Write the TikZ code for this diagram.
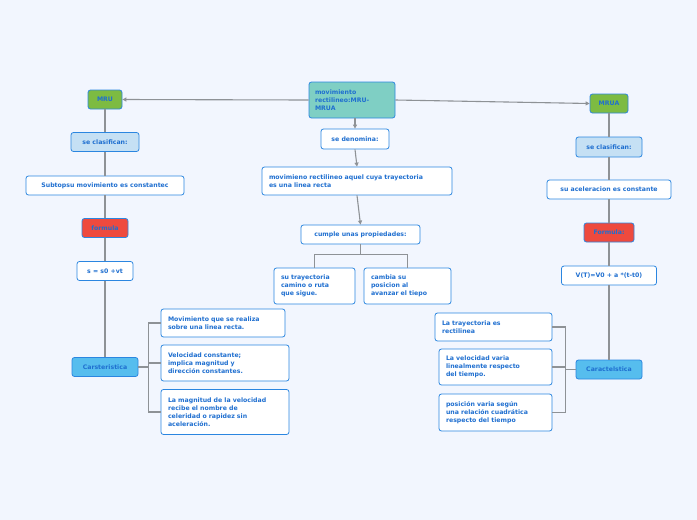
\documentclass[tikz,border=0pt]{standalone}
\usepackage{fontspec}
\setmainfont{DejaVu Sans}
\usetikzlibrary{arrows.meta}
\definecolor{bg}{HTML}{F2F6FE}
\definecolor{txt}{HTML}{1F6FD0}
\definecolor{bord}{HTML}{2B86E0}
\definecolor{teal}{HTML}{7FCFC4}
\definecolor{grn}{HTML}{7DBB42}
\definecolor{lblue}{HTML}{C5E0F4}
\definecolor{rd}{HTML}{EE4A3E}
\definecolor{sky}{HTML}{56BDEE}
\definecolor{ln}{HTML}{8E9296}
\tikzset{
  box/.style={draw=bord,thick,rounded corners=2.5pt,fill=white,text=txt,
    font=\fontsize{6.2}{8}\selectfont\bfseries,inner sep=0pt,align=left},
  link/.style={draw=ln,line width=1.1pt},
  arr/.style={link,-{Triangle[length=4pt,width=4pt]}}
}
\begin{document}
\begin{tikzpicture}[x=1pt,y=-1pt]
\fill[bg] (0,0) rectangle (697,520);
\useasboundingbox (0,0) rectangle (697,520);
% centre
\node[box,fill=teal,minimum width=86pt,minimum height=36pt,text width=74pt] (root) at (352,100) {movimiento\\rectilineo:MRU-\\MRUA};
\node[box,minimum width=68pt,minimum height=20pt,align=center] (denom) at (355,139) {se denomina:};
\node[box,minimum width=190pt,minimum height=28pt,text width=176pt] (def) at (357,181) {movimieno rectilineo aquel cuya trayectoria\\es una linea recta};
\node[box,minimum width=119pt,minimum height=19pt,align=center] (prop) at (360.5,234.5) {cumple unas propiedades:};
\node[box,minimum width=81pt,minimum height=36pt,text width=67pt] (tray) at (314.5,286) {su trayectoria\\camino o ruta\\que sigue.};
\node[box,minimum width=87pt,minimum height=36pt,text width=73pt] (camb) at (407.5,286) {cambia su\\posicion al\\avanzar el tiepo};
% MRU
\node[box,fill=grn,minimum width=34pt,minimum height=19pt,align=center] (mru) at (105,99.5) {MRU};
\node[box,fill=lblue,minimum width=68pt,minimum height=19pt,align=center] (clas1) at (105,142) {se clasifican:};
\node[box,minimum width=158pt,minimum height=19pt,align=center] (subt) at (105,185.5) {Subtopsu movimiento es constantec};
\node[box,fill=rd,minimum width=46pt,minimum height=19pt,align=center] (form1) at (105,228) {formula};
\node[box,minimum width=56pt,minimum height=19pt,align=center] (ec1) at (105,271) {s = s0 +vt};
\node[box,fill=sky,minimum width=66pt,minimum height=19pt,align=center] (car1) at (105,367) {Carsteristica};
\node[box,minimum width=124pt,minimum height=28pt,text width=110pt] (mov) at (223,323) {Movimiento que se realiza\\sobre una linea recta.};
\node[box,minimum width=128pt,minimum height=36pt,text width=114pt] (vel) at (225,363) {Velocidad constante;\\implica magnitud y\\dirección constantes.};
\node[box,minimum width=128pt,minimum height=45pt,text width=114pt] (mag) at (225,412) {La magnitud de la velocidad\\recibe el nombre de\\celeridad o rapidez sin\\aceleración.};
% MRUA
\node[box,fill=grn,minimum width=38pt,minimum height=19pt,align=center] (mrua) at (609,103.5) {MRUA};
\node[box,fill=lblue,minimum width=66pt,minimum height=20pt,align=center] (clas2) at (609,147) {se clasifican:};
\node[box,minimum width=124pt,minimum height=19pt,align=center] (acel) at (609,189.5) {su aceleracion es constante};
\node[box,fill=rd,minimum width=50pt,minimum height=19pt,align=center] (form2) at (609,232.5) {Formula:};
\node[box,minimum width=95pt,minimum height=19pt,align=center] (ec2) at (609,275.5) {V(T)=V0 + a *(t-t0)};
\node[box,fill=sky,minimum width=66pt,minimum height=19pt,align=center] (car2) at (609,369.5) {Caractelstica};
\node[box,minimum width=117pt,minimum height=28pt,text width=103pt] (rect) at (493.5,327) {La trayectoria es\\rectilinea};
\node[box,minimum width=113pt,minimum height=36pt,text width=99pt] (lin) at (495.5,367) {La velocidad varia\\linealmente respecto\\del tiempo.};
\node[box,minimum width=113pt,minimum height=37pt,text width=99pt] (cuad) at (495.5,412.5) {posición varia según\\una relación cuadrática\\respecto del tiempo};
% connectors
\draw[arr] (root.west) -- (mru.east);
\draw[arr] (root.east) -- (mrua.west);
\draw[arr] (root.south -| denom) -- (denom.north);
\draw[arr] (denom.south) -- (def.north);
\draw[arr] (def.south) -- (prop.north);
\draw[link] (prop.south) -- ++(0,10) -| (tray.north);
\draw[link] (prop.south) -- ++(0,10) -| (camb.north);
\draw[link] (mru) -- (clas1) -- (subt) -- (form1) -- (ec1) -- (car1);
\draw[link] (mrua) -- (clas2) -- (acel) -- (form2) -- (ec2) -- (car2);
\foreach \n in {mov,vel,mag}
  \draw[link] (car1.east) -| ++(10,0) |- (\n.west);
\foreach \n in {rect,lin,cuad}
  \draw[link] (car2.west) -| ++(-10,0) |- (\n.east);
\end{tikzpicture}
\end{document}
